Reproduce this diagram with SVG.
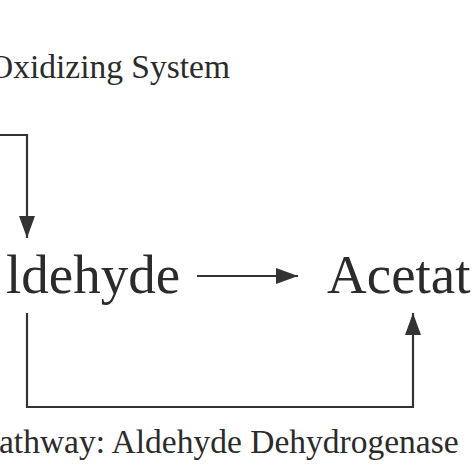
<svg xmlns="http://www.w3.org/2000/svg" width="474" height="474" viewBox="0 0 474 474">
  <style>
    .lbl { font-family: "Liberation Serif", "Times New Roman", serif; fill: #2b2b2b; }
    .big { font-size: 55px; }
    .small { font-size: 33.5px; }
    .conn { fill: none; stroke: #333; stroke-width: 2.2; }
  </style>
  <defs>
    <marker id="arr" viewBox="0 0 22 16" refX="22" refY="8" markerWidth="22" markerHeight="16" markerUnits="userSpaceOnUse" orient="auto">
      <path d="M0,0 L22,8 L0,16 Z" fill="#333"/>
    </marker>
  </defs>
  <rect width="474" height="474" fill="#fff"/>
  <g id="label-oxidizing">
    <text class="lbl small" x="-11" y="78">Oxidizing System</text>
  </g>
  <g id="node-aldehyde">
    <text class="lbl big" x="6" y="293">ldehyde</text>
  </g>
  <g id="node-acetate">
    <text class="lbl big" x="327" y="293">Acetat</text>
  </g>
  <g id="label-pathway">
    <text class="lbl small" x="-1" y="453">athway: Aldehyde Dehydrogenase</text>
  </g>
  <g id="connectors">
    <path class="conn" d="M0,135 H27 V238" marker-end="url(#arr)"/>
    <path class="conn" d="M197,276 H298" marker-end="url(#arr)"/>
    <path class="conn" d="M27,313 V407 H413 V313" marker-end="url(#arr)"/>
  </g>
</svg>
